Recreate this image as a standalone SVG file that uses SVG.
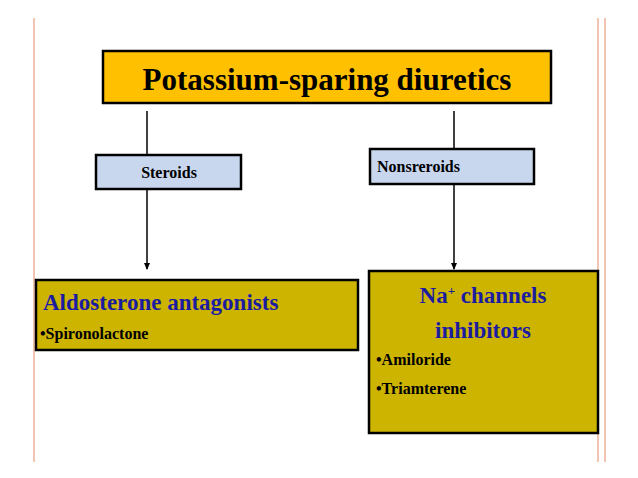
<svg xmlns="http://www.w3.org/2000/svg" width="638" height="478" viewBox="0 0 638 478">
<style>
text{font-family:"Liberation Serif","Times New Roman",serif;font-weight:bold}
.b{stroke:#000;stroke-width:2.5}
.sub{fill:#c9d7ee}
.gold{fill:#cdb400}
.blue{fill:#1c1ca0}
.c{stroke:#000;stroke-width:1.5;fill:none}
</style>
<defs><marker id="a" markerWidth="8" markerHeight="8" refX="6" refY="4" orient="auto" markerUnits="userSpaceOnUse"><path d="M0,1 L7,4 L0,7 Z" fill="#000"/></marker></defs>
<rect width="638" height="478" fill="#fff"/>
<g stroke="#f2c4b4" stroke-width="2"><line x1="34" y1="18" x2="34" y2="462"/><line x1="598" y1="18" x2="598" y2="462"/><line x1="605" y1="18" x2="605" y2="462"/></g>
<g id="connectors">
<line class="c" x1="147" y1="111" x2="147" y2="155"/>
<line class="c" x1="454" y1="111" x2="454" y2="149"/>
<line class="c" x1="147" y1="189" x2="147" y2="269" marker-end="url(#a)"/>
<line class="c" x1="454" y1="184" x2="454" y2="269" marker-end="url(#a)"/>
</g>
<g id="title"><rect x="103" y="51" width="448" height="52" fill="#ffc000" class="b"/><text x="327" y="90" font-size="31" text-anchor="middle">Potassium-sparing diuretics</text></g>
<g id="steroids"><rect x="96" y="155" width="145" height="34" class="sub b"/><text x="169" y="178" font-size="16" text-anchor="middle">Steroids</text></g>
<g id="nonsteroids"><rect x="370" y="149" width="164" height="35" class="sub b"/><text x="377" y="172" font-size="16">Nonsreroids</text></g>
<g id="aldo"><rect x="36" y="280" width="322" height="70" class="gold b"/><text x="43" y="310" font-size="23" class="blue">Aldosterone antagonists</text><text x="40" y="339" font-size="16">•Spironolactone</text></g>
<g id="na"><rect x="369" y="271" width="229" height="162" class="gold b"/><text x="483" y="303" font-size="23" class="blue" text-anchor="middle">Na<tspan font-size="13" dy="-8">+</tspan><tspan dy="8"> channels</tspan></text><text x="483" y="338" font-size="23" class="blue" text-anchor="middle">inhibitors</text><text x="376" y="365" font-size="16">•Amiloride</text><text x="376" y="394" font-size="16">•Triamterene</text></g>
</svg>
